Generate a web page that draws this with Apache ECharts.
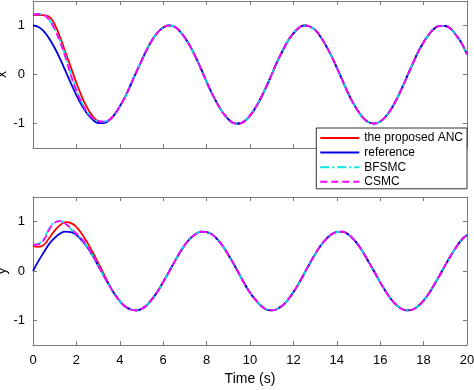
<!DOCTYPE html>
<html><head><meta charset="utf-8">
<script src="https://cdn.jsdelivr.net/npm/echarts@6/dist/echarts.min.js"></script>
<style>html,body{margin:0;padding:0;background:#fff}#c{width:474px;height:390px}</style>
</head><body><div id="c"></div>
<script>
const times = [0,0.25,0.5,0.75,1,1.25,1.5,1.75,2,2.25,2.5,2.75,3,3.25,3.5,3.75,4,4.25,4.5,4.75,5,5.25,5.5,5.75,6,6.25,6.5,6.75,7,7.25,7.5,7.75,8,8.25,8.5,8.75,9,9.25,9.5,9.75,10,10.25,10.5,10.75,11,11.25,11.5,11.75,12,12.25,12.5,12.75,13,13.25,13.5,13.75,14,14.25,14.5,14.75,15,15.25,15.5,15.75,16,16.25,16.5,16.75,17,17.25,17.5,17.75,18,18.25,18.5,18.75,19,19.25,19.5,19.75,20];
const xRef = [1.00,0.97,0.88,0.73,0.54,0.32,0.07,-0.18,-0.42,-0.63,-0.80,-0.92,-0.99,-0.99,-0.94,-0.82,-0.65,
  -0.45,-0.21,0.04,0.28,0.51,0.71,0.86,0.96,1.00,0.98,0.89,0.75,0.57,0.35,0.11,-0.15,
  -0.39,-0.60,-0.78,-0.91,-0.99,-1.00,-0.95,-0.84,-0.68,-0.48,-0.25,0.00,0.26,0.48,0.69,0.84,
  0.95,1.00,0.98,0.91,0.77,0.59,0.38,0.14,-0.11,-0.36,-0.58,-0.76,-0.90,-0.98,-1.00,-0.96,
  -0.86,-0.71,-0.51,-0.28,-0.03,0.22,0.46,0.66,0.82,0.94,0.99,0.99,0.93,0.80,0.64,0.41];
const yRef = [0.00,0.20,0.38,0.55,0.67,0.76,0.80,0.79,0.73,0.62,0.48,0.31,0.11,-0.09,-0.28,-0.46,-0.61,
  -0.72,-0.78,-0.80,-0.77,-0.69,-0.56,-0.41,-0.22,-0.03,0.17,0.36,0.53,0.66,0.75,0.80,0.79,
  0.74,0.64,0.50,0.33,0.14,-0.06,-0.26,-0.44,-0.58,-0.70,-0.78,-0.80,-0.77,-0.70,-0.58,-0.43,
  -0.25,-0.05,0.15,0.34,0.51,0.64,0.74,0.79,0.80,0.75,0.65,0.52,0.35,0.16,-0.03,-0.23,
  -0.41,-0.57,-0.69,-0.77,-0.80,-0.78,-0.71,-0.60,-0.45,-0.27,-0.08,0.12,0.31,0.48,0.63,0.73];
// transient part (t = 0 .. 4 s); afterwards the trackers follow the reference
const xANC   = [1.21,1.21,1.21,1.18,1.02,0.76,0.45,0.14,-0.17,-0.45,-0.68,-0.85,-0.95,-0.97,-0.93,-0.82,-0.65];
const xBFSMC = [1.23,1.23,1.21,1.12,0.93,0.68,0.37,0.01,-0.31,-0.57,-0.77,-0.89,-0.95,-0.96,-0.93,-0.82,-0.65];
const xCSMC  = [1.23,1.23,1.21,1.11,0.92,0.66,0.34,-0.02,-0.33,-0.58,-0.77,-0.89,-0.95,-0.96,-0.93,-0.82,-0.65];
const yANC   = [0.51,0.49,0.53,0.67,0.82,0.93,0.99,0.97,0.89,0.75,0.58,0.38,0.17,-0.05,-0.27,-0.46,-0.61];
const yBFSMC = [0.53,0.55,0.66,0.86,0.99,1.01,0.95,0.85,0.75,0.64,0.49,0.32,0.12,-0.09,-0.28,-0.46,-0.61];
const yCSMC  = [0.53,0.54,0.63,0.84,0.98,1.01,0.96,0.86,0.76,0.65,0.50,0.32,0.12,-0.09,-0.28,-0.46,-0.61];
const names = ['the proposed ANC','reference','BFSMC','CSMC'];
const xTicks = [0,2,4,6,8,10,12,14,16,18,20];
const yTicks = [-1,0,1];

function full(trans, ref){ return trans.concat(ref.slice(trans.length)); }
function pairs(vals){ return times.map((t,i)=>[t, vals[i]]); }

const axisCol = '#7a7a7a';
const font = 'Liberation Sans, Arial, sans-serif';
function xAx(grid, pos, labels, name){
  return {type:'value', gridIndex:grid, position:pos, min:0, max:20, interval:2,
    axisLine:{show:true, onZero:false, lineStyle:{color:axisCol, width:1}},
    axisTick:{show:true, inside:true, length:4, lineStyle:{color:axisCol}},
    axisLabel:{show:labels, color:'#000', fontSize:13, fontFamily:font, margin:9},
    splitLine:{show:false},
    name: name||'', nameLocation:'middle', nameGap:27, nameMoveOverlap:false,
    nameTextStyle:{color:'#000', fontSize:14, fontFamily:font}};
}
function yAx(grid, pos, labels, name){
  return {type:'value', gridIndex:grid, position:pos, min:-1.5, max:1.5,
    axisLine:{show:true, onZero:false, lineStyle:{color:axisCol, width:1}},
    axisTick:{show:true, inside:true, length:4, customValues:yTicks, lineStyle:{color:axisCol}},
    axisLabel:{show:labels, color:'#000', fontSize:13, fontFamily:font, margin:8, customValues:yTicks},
    splitLine:{show:false},
    name: name||'', nameLocation:'middle', nameGap:24, nameRotate:90, nameMoveOverlap:false,
    nameTextStyle:{color:'#000', fontSize:14, fontFamily:font}};
}
const styles = [
  {color:'#ff0000', type:'solid'},
  {color:'#0000e6', type:'solid'},
  {color:'#00e5e5', type:[9,3,2,3]},
  {color:'#ff00ff', type:[7,4]}
];
function ser(i, gridIdx, vals){
  return {name:names[i], type:'line', xAxisIndex:gridIdx*2, yAxisIndex:gridIdx*2,
    data:pairs(vals), smooth:true, symbol:'none', animation:false,
    lineStyle:{color:styles[i].color, width:1.8, type:styles[i].type},
    itemStyle:{color:styles[i].color}};
}
const chart = echarts.init(document.getElementById('c'), null, {renderer:'canvas'});
chart.setOption({
  animation:false,
  grid:[{left:33, top:1, width:434, height:147, outerBoundsMode:'none', containLabel:false},
        {left:33, top:197, width:434, height:148, outerBoundsMode:'none', containLabel:false}],
  xAxis:[xAx(0,'bottom',false), xAx(0,'top',false), xAx(1,'bottom',true,'Time (s)'), xAx(1,'top',false)],
  yAxis:[yAx(0,'left',true,'x'), yAx(0,'right',false), yAx(1,'left',true,'y'), yAx(1,'right',false)],
  legend:{right:7, top:128, orient:'vertical', backgroundColor:'#fff', borderColor:'#333', borderWidth:1,
    borderRadius:0, padding:[4,4,1,3], itemWidth:39, itemHeight:14, itemGap:2.6,
    itemStyle:{opacity:0},
    textStyle:{color:'#000', fontSize:12, fontFamily:font}, data:names},
  series:[
    ser(0,0,full(xANC,xRef)), ser(1,0,xRef), ser(2,0,full(xBFSMC,xRef)), ser(3,0,full(xCSMC,xRef)),
    ser(0,1,full(yANC,yRef)), ser(1,1,yRef), ser(2,1,full(yBFSMC,yRef)), ser(3,1,full(yCSMC,yRef))
  ]
});
</script></body></html>
